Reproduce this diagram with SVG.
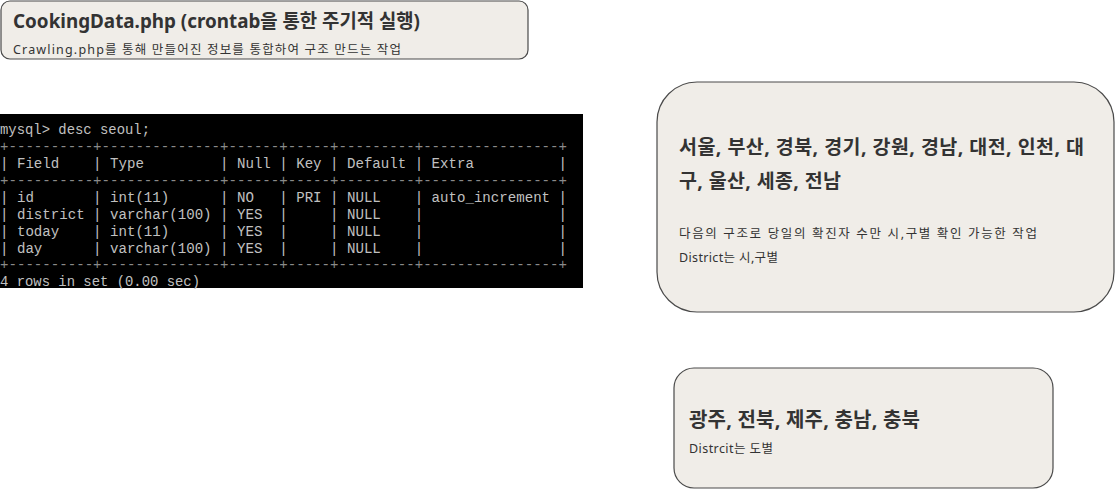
<svg xmlns="http://www.w3.org/2000/svg" width="1115" height="489" viewBox="0 0 1115 489">
<style>
.box{fill:#f0ede8;stroke:#4a4a4a;stroke-width:1.2}
.h{font-family:"Noto Sans","Noto Sans CJK KR",sans-serif;font-weight:bold;fill:#333}
.s{font-family:"Noto Sans","Noto Sans CJK KR",sans-serif;font-size:12.5px;fill:#333}
.t{font-family:"Liberation Mono",monospace;font-size:13.9px;fill:#c0c0c0;white-space:pre}
.b{fill:#8a8a8a}
</style>
<g id="node-cooking">
<rect class="box" x="1" y="1" width="527" height="58" rx="9"/>
<text class="h" x="13" y="28" font-size="19.5" textLength="407" lengthAdjust="spacingAndGlyphs">CookingData.php (crontab을 통한 주기적 실행)</text>
<text class="s" x="13" y="54" textLength="388" lengthAdjust="spacing">Crawling.php를 통해 만들어진 정보를 통합하여 구조 만드는 작업</text>
</g>
<g id="terminal">
<rect x="0" y="114" width="583" height="174" fill="#000"/>
<text class="t" xml:space="preserve" x="0" y="134" textLength="150" lengthAdjust="spacingAndGlyphs">mysql&gt; desc seoul;</text>
<text class="t b" xml:space="preserve" x="0" y="151" textLength="567" lengthAdjust="spacingAndGlyphs">+----------+--------------+------+-----+---------+----------------+</text>
<text class="t" xml:space="preserve" x="0" y="168" textLength="567" lengthAdjust="spacingAndGlyphs">| Field    | Type         | Null | Key | Default | Extra          |</text>
<text class="t b" xml:space="preserve" x="0" y="185" textLength="567" lengthAdjust="spacingAndGlyphs">+----------+--------------+------+-----+---------+----------------+</text>
<text class="t" xml:space="preserve" x="0" y="202" textLength="567" lengthAdjust="spacingAndGlyphs">| id       | int(11)      | NO   | PRI | NULL    | auto_increment |</text>
<text class="t" xml:space="preserve" x="0" y="219" textLength="567" lengthAdjust="spacingAndGlyphs">| district | varchar(100) | YES  |     | NULL    |                |</text>
<text class="t" xml:space="preserve" x="0" y="236" textLength="567" lengthAdjust="spacingAndGlyphs">| today    | int(11)      | YES  |     | NULL    |                |</text>
<text class="t" xml:space="preserve" x="0" y="253" textLength="567" lengthAdjust="spacingAndGlyphs">| day      | varchar(100) | YES  |     | NULL    |                |</text>
<text class="t b" xml:space="preserve" x="0" y="269" textLength="567" lengthAdjust="spacingAndGlyphs">+----------+--------------+------+-----+---------+----------------+</text>
<text class="t" xml:space="preserve" x="0" y="286" textLength="200" lengthAdjust="spacingAndGlyphs">4 rows in set (0.00 sec)</text>
</g>
<g id="node-cities">
<rect class="box" x="657" y="82" width="457" height="230" rx="40"/>
<text class="h" x="679" y="154" font-size="19.5" textLength="405" lengthAdjust="spacing">서울, 부산, 경북, 경기, 강원, 경남, 대전, 인천, 대</text>
<text class="h" x="679" y="188" font-size="19.5" textLength="162" lengthAdjust="spacing">구, 울산, 세종, 전남</text>
<text class="s" x="679" y="238" textLength="358" lengthAdjust="spacing">다음의 구조로 당일의 확진자 수만 시,구별 확인 가능한 작업</text>
<text class="s" x="679" y="262" textLength="99" lengthAdjust="spacing">District는  시,구별</text>
</g>
<g id="node-provinces">
<rect class="box" x="674" y="368" width="379" height="120" rx="20"/>
<text class="h" x="689" y="427" font-size="20" textLength="231" lengthAdjust="spacing">광주, 전북, 제주, 충남, 충북</text>
<text class="s" x="689" y="453" textLength="84" lengthAdjust="spacing">Distrcit는  도별</text>
</g>
<g id="connectors"/>
</svg>
